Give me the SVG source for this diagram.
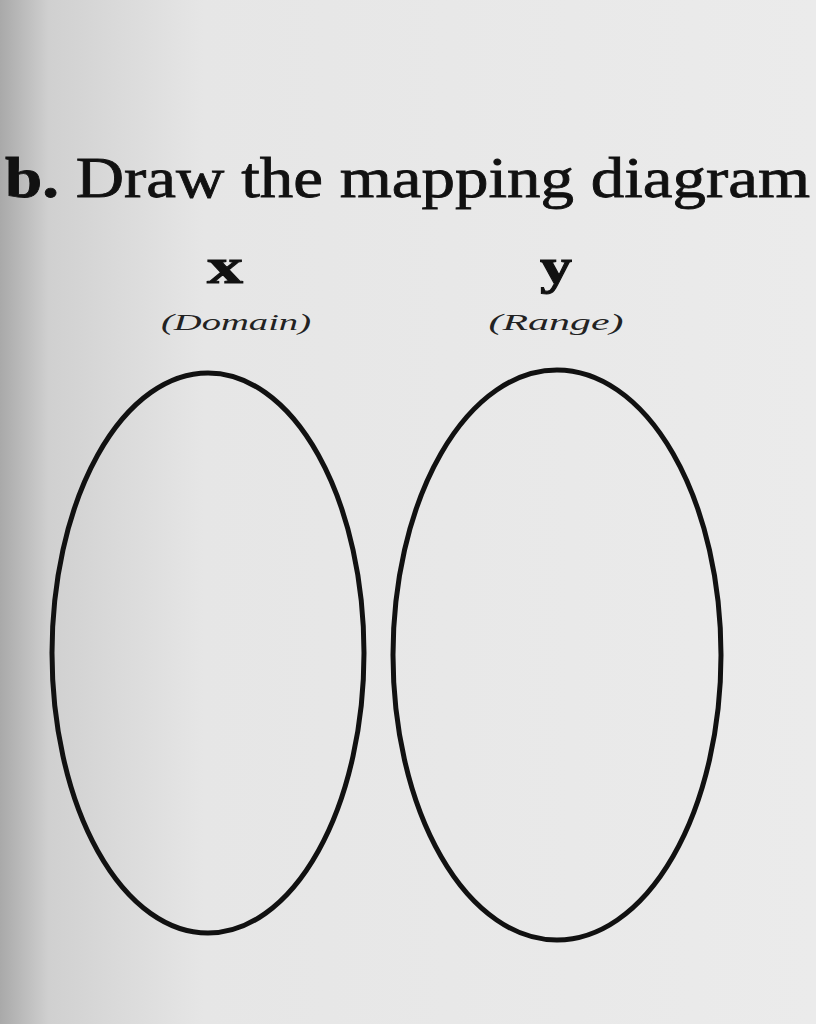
<svg xmlns="http://www.w3.org/2000/svg" width="816" height="1024" viewBox="0 0 816 1024">
<defs>
<linearGradient id="bg" x1="0" y1="0" x2="1" y2="0">
<stop offset="0" stop-color="#a9a9a9"/>
<stop offset="0.06" stop-color="#d0d0d0"/>
<stop offset="0.25" stop-color="#e6e6e6"/>
<stop offset="1" stop-color="#ebebeb"/>
</linearGradient>
<style>
.set{fill:none;stroke:#111;stroke-width:5}
.title{font-family:"Liberation Serif",serif;font-size:57px;fill:#111;stroke:#111;stroke-width:0.8}
.var{font-family:"Liberation Serif",serif;font-weight:bold;font-size:50px;fill:#111;text-anchor:middle;stroke:#111;stroke-width:1}
.lab{font-family:"Liberation Serif",serif;font-style:italic;font-size:24px;fill:#222;text-anchor:middle}
</style>
</defs>
<rect width="816" height="1024" fill="url(#bg)"/>
<text class="title" x="5" y="197" textLength="805" lengthAdjust="spacingAndGlyphs"><tspan font-weight="bold">b.</tspan> Draw the mapping diagram</text>
<g id="domain">
<text class="var" x="225" y="283" textLength="36" lengthAdjust="spacingAndGlyphs">x</text>
<text class="lab" x="236" y="330" textLength="150" lengthAdjust="spacingAndGlyphs">(Domain)</text>
<ellipse class="set" cx="208" cy="653" rx="156" ry="280"/>
</g>
<g id="range">
<text class="var" x="556" y="283" textLength="32" lengthAdjust="spacingAndGlyphs">y</text>
<text class="lab" x="556" y="330" textLength="135" lengthAdjust="spacingAndGlyphs">(Range)</text>
<ellipse class="set" cx="557" cy="655" rx="164" ry="285"/>
</g>
<g id="connectors"></g>
</svg>
